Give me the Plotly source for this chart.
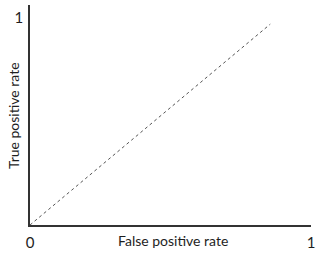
import plotly.graph_objects as go

# data
diag_x = [0, 0.855]
diag_y = [0, 0.97]
x_ticks = [0, 1]
x_tick_labels = ["0", "1"]
y_ticks = [1]
y_tick_labels = ["1"]
x_title = "False positive rate"
y_title = "True positive rate"

FONT = "Lato, Noto Sans, sans-serif"

fig = go.Figure()
fig.add_trace(go.Scatter(
    x=diag_x, y=diag_y, mode="lines",
    line=dict(color="#555555", width=1, dash="3px,3px"),
    hoverinfo="skip", showlegend=False,
))

fig.update_layout(
    width=320, height=256,
    margin=dict(l=30, r=7, t=5, b=30),
    paper_bgcolor="white", plot_bgcolor="white",
    showlegend=False,
    xaxis=dict(
        range=[0, 1], showgrid=False, zeroline=False,
        showline=True, linecolor="#333333", linewidth=1.5,
        tickvals=x_ticks, ticktext=x_tick_labels, ticks="",
        tickfont=dict(family=FONT, size=15, color="#1e1e1e"),
        ticklabelstandoff=3,
    ),
    yaxis=dict(
        range=[0, 1.0625], showgrid=False, zeroline=False,
        showline=True, linecolor="#333333", linewidth=1.5,
        tickvals=y_ticks, ticktext=y_tick_labels, ticks="",
        tickfont=dict(family=FONT, size=15, color="#1e1e1e"),
        ticklabelstandoff=2,
    ),
    annotations=[
        dict(text=x_title, xref="paper", yref="paper", x=0.509, y=0,
             yshift=-15, xanchor="center", yanchor="middle", showarrow=False,
             font=dict(family=FONT, size=14, color="#1e1e1e")),
        dict(text=y_title, xref="paper", yref="paper", x=0, y=0.495,
             xshift=-17, xanchor="center", yanchor="middle", showarrow=False,
             textangle=-90, font=dict(family=FONT, size=14, color="#1e1e1e")),
    ],
)

fig.write_html("out.html")
